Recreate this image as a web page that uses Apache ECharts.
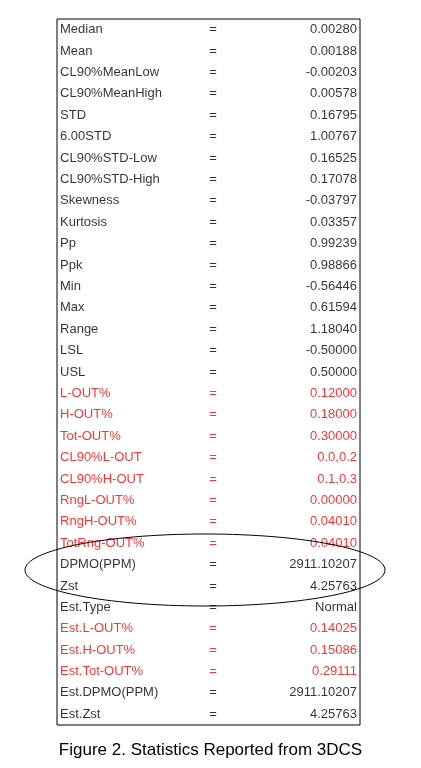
<!DOCTYPE html>
<html><head><meta charset="utf-8">
<script src="https://cdn.jsdelivr.net/npm/echarts@6/dist/echarts.min.js"></script>
<style>html,body{margin:0;padding:0;background:#fff}#c{width:421px;height:768px}</style>
</head><body><div id="c"></div>
<script>
const labels = ["Median","Mean","CL90%MeanLow","CL90%MeanHigh","STD","6.00STD","CL90%STD-Low","CL90%STD-High","Skewness","Kurtosis","Pp","Ppk","Min","Max","Range","LSL","USL","L-OUT%","H-OUT%","Tot-OUT%","CL90%L-OUT","CL90%H-OUT","RngL-OUT%","RngH-OUT%","TotRng-OUT%","DPMO(PPM)","Zst","Est.Type","Est.L-OUT%","Est.H-OUT%","Est.Tot-OUT%","Est.DPMO(PPM)","Est.Zst"];
const values = ["0.00280","0.00188","-0.00203","0.00578","0.16795","1.00767","0.16525","0.17078","-0.03797","0.03357","0.99239","0.98866","-0.56446","0.61594","1.18040","-0.50000","0.50000","0.12000","0.18000","0.30000","0.0,0.2","0.1,0.3","0.00000","0.04010","0.04010","2911.10207","4.25763","Normal","0.14025","0.15086","0.29111","2911.10207","4.25763"];
const redRows = ["L-OUT%","H-OUT%","Tot-OUT%","CL90%L-OUT","CL90%H-OUT","RngL-OUT%","RngH-OUT%","TotRng-OUT%","Est.L-OUT%","Est.H-OUT%","Est.Tot-OUT%"];
const caption = "Figure 2. Statistics Reported from 3DCS";

const colorOf = l => redRows.includes(l) ? '#ff0000' : '#000000';
const font = {fontFamily:'Liberation Sans, Arial, sans-serif', fontSize:13, textBorderWidth:0, textBorderColor:'transparent'};
function col(x, textFn, align){
  return {type:'scatter', symbolSize:0, silent:true,
    data: labels.map((l,i)=>({value:[x,i], label:Object.assign({show:true, position:'inside', align:align, formatter:textFn(i), color:colorOf(l)}, font)}))};
}
const chart = echarts.init(document.getElementById('c'));
chart.setOption({
  animation:false,
  grid:{left:57,right:61,top:19,bottom:43,show:true,borderColor:'#000',borderWidth:1,backgroundColor:'#fff'},
  xAxis:{type:'value',min:0,max:1,show:false},
  yAxis:{type:'category',data:labels,inverse:true,show:false},
  series:[
    col(0.01, i=>labels[i], 'left'),
    col(0.515, i=>'=', 'center'),
    col(0.99, i=>values[i], 'right')
  ],
  title:{text:caption,left:'center',bottom:4,textStyle:{fontFamily:'Liberation Sans, Arial, sans-serif',fontSize:17,fontWeight:'normal',color:'#000'}},
  graphic:[{type:'ellipse',shape:{cx:205,cy:570,rx:180,ry:36},style:{fill:'none',stroke:'#000',lineWidth:1},z:10}]
});
</script></body></html>
